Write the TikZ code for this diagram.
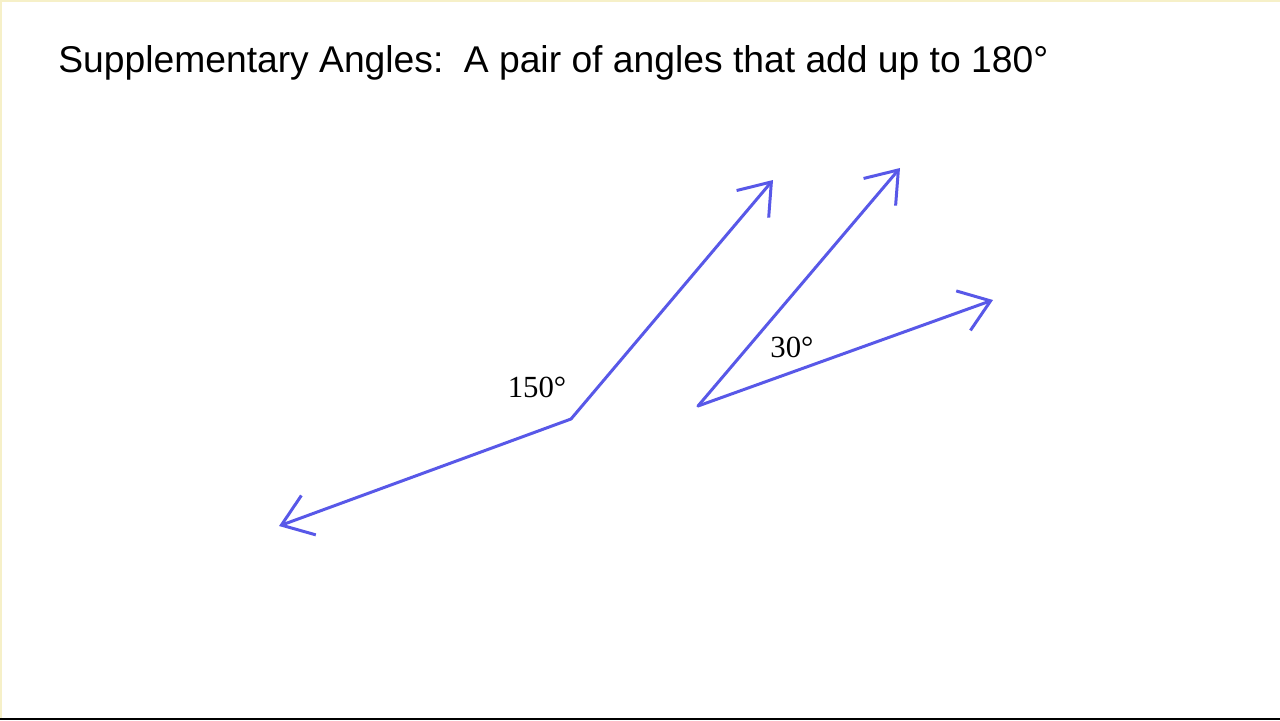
\documentclass[tikz,border=0pt]{standalone}
\usepackage{fontspec}
\setmainfont{Liberation Serif}
\newfontfamily\titlefont{Liberation Sans}
\usetikzlibrary{arrows.meta}
\definecolor{raycol}{RGB}{88,88,232}
\definecolor{edgecol}{RGB}{246,240,200}
\tikzset{
  ray/.style={draw=raycol, line width=1.7pt, line cap=round, line join=round,
    -{Straight Barb[length=0.58cm, width=0.84cm, line width=1.7pt]}},
  anglabel/.style={font=\fontsize{17.5}{20}\selectfont, inner sep=0pt},
  titletext/.style={font=\titlefont\fontsize{21.2}{26}\selectfont, inner sep=0pt, anchor=base west}
}
\begin{document}
\begin{tikzpicture}[x=0.02cm, y=-0.02cm]
\fill[white] (0,0) rectangle (1280,720);
\useasboundingbox (0,0) rectangle (1280,720);
\fill[edgecol] (0,0) rectangle (2,720);
\fill[edgecol] (0,0) rectangle (1280,1.5);
\fill[black] (0,718) rectangle (1280,720);

\node[titletext] (title) at (58,72) {Supplementary Angles:\hspace{0.55em}A pair of angles that add up to 180°};

% left (150 degree) angle
\coordinate (v1) at (571,419);
\coordinate (a1) at (773,180);
\coordinate (b1) at (279,526);
\draw[ray] (v1) -- (a1);
\draw[ray] (v1) -- (b1);
\node[anglabel] (l150) at (537,387) {150°};

% right (30 degree) angle
\coordinate (v2) at (698,406);
\coordinate (a2) at (900,168);
\coordinate (b2) at (993,300);
\draw[ray] (v2) -- (a2);
\draw[ray] (v2) -- (b2);
\node[anglabel] (l30) at (792,347) {30°};
\end{tikzpicture}
\end{document}
